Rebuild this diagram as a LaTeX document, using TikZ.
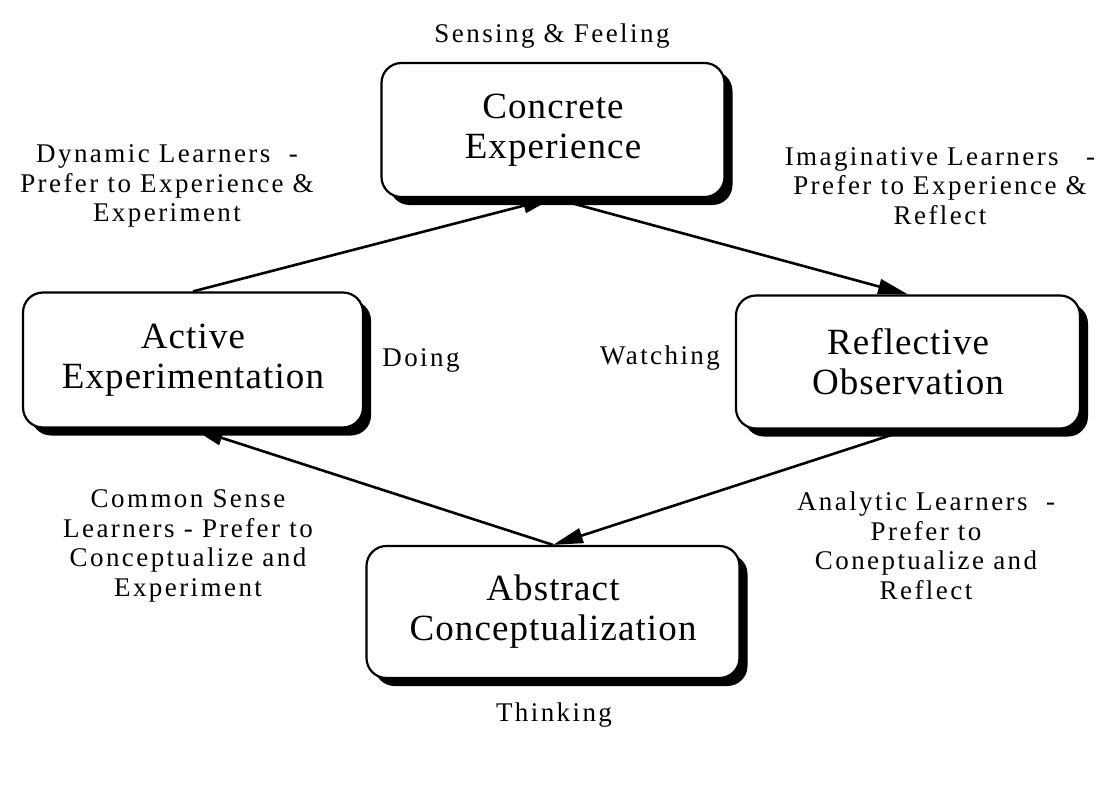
\documentclass[tikz,border=0pt]{standalone}
\usepackage{fontspec}
\setmainfont{Liberation Serif}
\newfontfamily\boxfont[LetterSpace=3]{Liberation Serif}
\newfontfamily\labfont[LetterSpace=9]{Liberation Serif}
\usetikzlibrary{shadows,arrows.meta}
\begin{document}
\begin{tikzpicture}[x=1pt,y=-1pt,
  stagebox/.style={draw=black, line width=2.2pt, fill=white, rounded corners=20pt,
    align=center, inner sep=0pt,
    font=\boxfont\fontsize{37}{40}\selectfont,
    drop shadow={shadow xshift=8pt, shadow yshift=-8pt, fill=black, opacity=1}},
  lab/.style={align=center, inner sep=0pt, font=\labfont\fontsize{27}{29.5}\selectfont},
  flow/.style={line width=2.6pt, -{Triangle[length=30pt,width=15pt]}}]
\useasboundingbox (0,0) rectangle (1118,784);
\node[stagebox, minimum width=343pt, minimum height=134pt] (C) at (553,130) {Concrete\\Experience};
\node[stagebox, minimum width=340pt, minimum height=135pt] (A) at (193,360) {Active\\Experimentation};
\node[stagebox, minimum width=344pt, minimum height=133pt] (R) at (908,362) {Reflective\\Observation};
\node[stagebox, minimum width=373pt, minimum height=132pt] (B) at (553,612) {Abstract\\Conceptualization};
\draw[flow] (A.north) -- (C.south);
\draw[flow] (C.south) -- (R.north);
\draw[flow] (R.south) -- (B.north);
\draw[flow] (B.north) -- (A.south);
\node[lab] (sf) at (552,36) {Sensing \& Feeling};
\node[lab] (th) at (554,715) {Thinking};
\node[lab] (do) at (421,360) {Doing};
\node[lab] (wa) at (660,358) {Watching};
\node[lab] (dl) at (167,186) {Dynamic Learners~~-\\Prefer to Experience \&\\Experiment};
\node[lab] (il) at (940,186) {Imaginative Learners~~~-\\Prefer to Experience \&\\Reflect};
\node[lab] (cl) at (188,546) {Common Sense\\Learners - Prefer to\\Conceptualize and\\Experiment};
\node[lab] (al) at (926,546) {Analytic Learners~~-\\Prefer to\\Coneptualize and\\Reflect};
\end{tikzpicture}
\end{document}
